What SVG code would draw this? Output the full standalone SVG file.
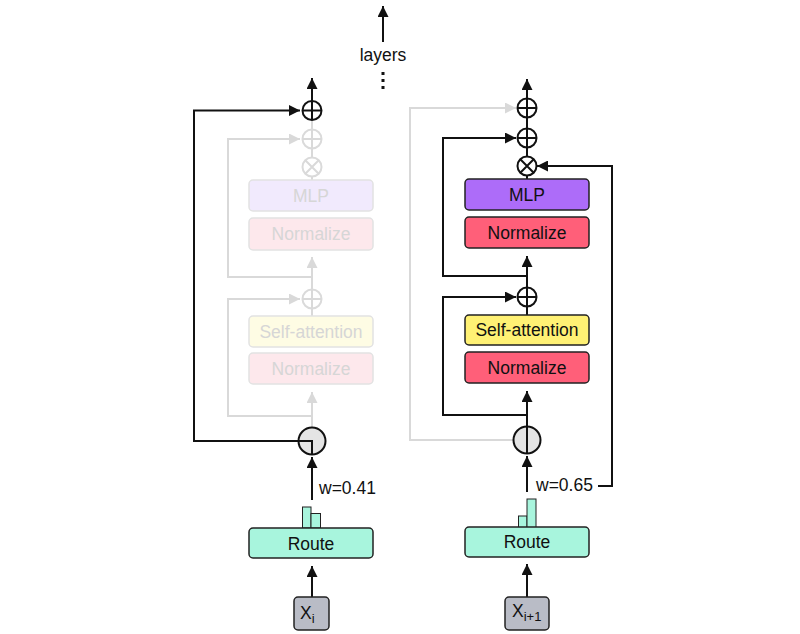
<svg xmlns="http://www.w3.org/2000/svg" width="800" height="634" viewBox="0 0 800 634">
<style>
text{font-family:"Liberation Sans",Arial,sans-serif;font-size:17.5px;fill:#111}
.t{text-anchor:middle}
.ln{fill:none;stroke:#111;stroke-width:2}
.lg{fill:none;stroke:#d9d9d9;stroke-width:2}
.box{stroke:#222;stroke-width:1.5}
.fbox{stroke:#e2e2e2;stroke-width:1.5}
.ft{fill:#d6d6d6}
.op{fill:#fff;stroke:#111;stroke-width:2}
.fop{fill:#fff;stroke:#dadada;stroke-width:2}
.gate{fill:#e4e4e4;stroke:#111;stroke-width:2}
.bar{fill:#a8f5dd;stroke:#222;stroke-width:1}
</style>
<defs>
<marker id="ah" markerUnits="userSpaceOnUse" viewBox="0 0 11 11" refX="11" refY="5.5" markerWidth="11" markerHeight="11" orient="auto"><path d="M0,0 L11,5.5 L0,11 z" fill="#111"/></marker>
<marker id="ahg" markerUnits="userSpaceOnUse" viewBox="0 0 11 11" refX="11" refY="5.5" markerWidth="11" markerHeight="11" orient="auto"><path d="M0,0 L11,5.5 L0,11 z" fill="#d9d9d9"/></marker>
</defs>

<g id="connectors">
<!-- top layers arrow -->
<line class="ln" x1="383" y1="42" x2="383" y2="6" marker-end="url(#ah)"/>
<!-- LEFT column -->
<line class="ln" x1="312" y1="101" x2="312" y2="78" marker-end="url(#ah)"/>
<line class="lg" x1="312" y1="120" x2="312" y2="130"/>
<line class="lg" x1="312" y1="148" x2="312" y2="158"/>
<line class="lg" x1="312" y1="176" x2="312" y2="180"/>
<line class="lg" x1="312" y1="290" x2="312" y2="257" marker-end="url(#ahg)"/>
<polyline class="lg" points="312,277 228,277 228,139 300,139" marker-end="url(#ahg)"/>
<line class="lg" x1="312" y1="308" x2="312" y2="316"/>
<line class="lg" x1="312" y1="427" x2="312" y2="392" marker-end="url(#ahg)"/>
<polyline class="lg" points="312,416 228,416 228,299 300,299" marker-end="url(#ahg)"/>
<polyline class="ln" points="312,441 194,441 194,110.5 300,110.5" marker-end="url(#ah)"/>
<line class="ln" x1="312" y1="500" x2="312" y2="457" marker-end="url(#ah)"/>
<line class="ln" x1="312" y1="597" x2="312" y2="566" marker-end="url(#ah)"/>
<!-- RIGHT column -->
<line class="ln" x1="527" y1="99" x2="527" y2="79" marker-end="url(#ah)"/>
<line class="ln" x1="527" y1="117" x2="527" y2="129"/>
<line class="ln" x1="527" y1="147" x2="527" y2="157"/>
<line class="ln" x1="527" y1="175" x2="527" y2="179"/>
<line class="ln" x1="527" y1="288" x2="527" y2="256" marker-end="url(#ah)"/>
<polyline class="ln" points="527,276 443,276 443,138 516,138" marker-end="url(#ah)"/>
<line class="ln" x1="527" y1="306" x2="527" y2="315"/>
<line class="ln" x1="527" y1="426" x2="527" y2="391" marker-end="url(#ah)"/>
<polyline class="ln" points="527,415 443,415 443,297 516,297" marker-end="url(#ah)"/>
<polyline class="lg" points="513,440 410,440 410,108 516,108" marker-end="url(#ahg)"/>
<line class="ln" x1="527" y1="492" x2="527" y2="456" marker-end="url(#ah)"/>
<polyline class="ln" points="598,486 612,486 612,166 537,166" marker-end="url(#ah)"/>
<line class="ln" x1="527" y1="597" x2="527" y2="564" marker-end="url(#ah)"/>
</g>

<g id="layers-label">
<text x="383" y="61" class="t">layers</text>
<rect x="381.5" y="72" width="3" height="3" fill="#111"/>
<rect x="381.5" y="79" width="3" height="3" fill="#111"/>
<rect x="381.5" y="86" width="3" height="3" fill="#111"/>
</g>

<!-- LEFT column nodes -->
<g id="L-add-top"><circle class="op" cx="312" cy="110.5" r="9.5"/><path class="ln" d="M302.5,110.5 H321.5 M312,101 V120"/></g>
<g id="L-add-mlp"><circle class="fop" cx="312" cy="139" r="9.5"/><path class="lg" d="M302.5,139 H321.5 M312,129.5 V148.5"/></g>
<g id="L-mul"><circle class="fop" cx="312" cy="167" r="9.5"/><path class="lg" d="M305.3,160.3 L318.7,173.7 M318.7,160.3 L305.3,173.7"/></g>
<g id="L-mlp"><rect class="fbox" x="249" y="180" width="124" height="31" rx="4" fill="#f1eafd"/><text x="311" y="202" class="t ft">MLP</text></g>
<g id="L-norm2"><rect class="fbox" x="249" y="218" width="124" height="32" rx="4" fill="#fde8ec"/><text x="311" y="240" class="t ft">Normalize</text></g>
<g id="L-add-attn"><circle class="fop" cx="312" cy="299" r="9.5"/><path class="lg" d="M302.5,299 H321.5 M312,289.5 V308.5"/></g>
<g id="L-attn"><rect class="fbox" x="249" y="316" width="124" height="31" rx="4" fill="#fefce4"/><text x="311" y="338" class="t ft">Self-attention</text></g>
<g id="L-norm1"><rect class="fbox" x="249" y="353" width="124" height="31" rx="4" fill="#fde8ec"/><text x="311" y="375" class="t ft">Normalize</text></g>
<g id="L-gate"><circle class="gate" cx="312" cy="441" r="13.5"/><polyline class="ln" points="298.5,441 312,441 312,454.5"/></g>
<g id="L-weight"><text x="319" y="494">w=0.41</text></g>
<g id="L-bars"><rect class="bar" x="302.5" y="507" width="8.5" height="21"/><rect class="bar" x="311" y="513.5" width="9.5" height="14.5"/></g>
<g id="L-route"><rect class="box" x="249" y="528" width="124" height="30" rx="4" fill="#a8f5dd"/><text x="311" y="550" class="t">Route</text></g>
<g id="L-x"><rect class="box" x="294" y="597" width="35" height="33" rx="4" fill="#b9bcc6"/><text x="300" y="619">X<tspan font-size="13" dy="4">i</tspan></text></g>

<!-- RIGHT column nodes -->
<g id="R-add-top"><circle class="op" cx="527" cy="108" r="9.5"/><path class="ln" d="M517.5,108 H536.5 M527,98.5 V117.5"/></g>
<g id="R-add-mlp"><circle class="op" cx="527" cy="138" r="9.5"/><path class="ln" d="M517.5,138 H536.5 M527,128.5 V147.5"/></g>
<g id="R-mul"><circle class="op" cx="527" cy="166" r="9.5"/><path class="ln" d="M520.3,159.3 L533.7,172.7 M533.7,159.3 L520.3,172.7"/></g>
<g id="R-mlp"><rect class="box" x="465" y="179" width="124" height="31" rx="4" fill="#ad6cf9"/><text x="527" y="201" class="t">MLP</text></g>
<g id="R-norm2"><rect class="box" x="465" y="217" width="124" height="31" rx="4" fill="#ff5f79"/><text x="527" y="239" class="t">Normalize</text></g>
<g id="R-add-attn"><circle class="op" cx="527" cy="297" r="9.5"/><path class="ln" d="M517.5,297 H536.5 M527,287.5 V306.5"/></g>
<g id="R-attn"><rect class="box" x="465" y="315" width="124" height="30" rx="4" fill="#fff174"/><text x="527" y="336" class="t">Self-attention</text></g>
<g id="R-norm1"><rect class="box" x="465" y="352" width="124" height="31" rx="4" fill="#ff5f79"/><text x="527" y="374" class="t">Normalize</text></g>
<g id="R-gate"><circle class="gate" cx="527" cy="440" r="13.5"/><line class="ln" x1="527" y1="426.5" x2="527" y2="453.5"/></g>
<g id="R-weight"><text x="536" y="491">w=0.65</text></g>
<g id="R-bars"><rect class="bar" x="518.5" y="516" width="8.5" height="12"/><rect class="bar" x="527" y="499" width="9" height="29"/></g>
<g id="R-route"><rect class="box" x="465" y="527" width="124" height="30" rx="4" fill="#a8f5dd"/><text x="527" y="548" class="t">Route</text></g>
<g id="R-x"><rect class="box" x="505" y="597" width="44" height="33" rx="4" fill="#b9bcc6"/><text x="512" y="617">X<tspan font-size="13" dy="4">i+1</tspan></text></g>
</svg>
